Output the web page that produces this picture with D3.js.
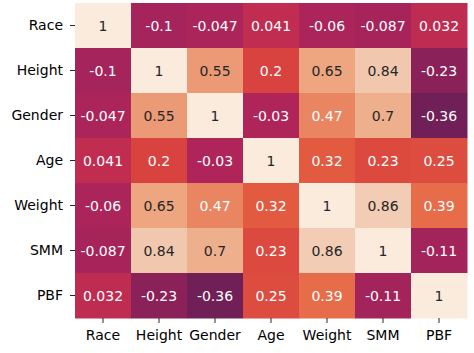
<!DOCTYPE html>
<html>
  <head>
    <meta charset="utf-8">
    <title>Correlation heatmap</title>
    <script src="https://d3js.org/d3.v7.min.js"></script>
    <style>
      body { margin: 0; background: #fff; }
      text { font-family: "DejaVu Sans", sans-serif; }
    </style>
  </head>
  <body>
    <div id="container"></div>
    <script>
      // DATA
      const variables = ["Race", "Height", "Gender", "Age", "Weight", "SMM", "PBF"];
      const raceRow   = [1, -0.1, -0.047, 0.041, -0.06, -0.087, 0.032];
      const heightRow = [-0.1, 1, 0.55, 0.2, 0.65, 0.84, -0.23];
      const genderRow = [-0.047, 0.55, 1, -0.03, 0.47, 0.7, -0.36];
      const ageRow    = [0.041, 0.2, -0.03, 1, 0.32, 0.23, 0.25];
      const weightRow = [-0.06, 0.65, 0.47, 0.32, 1, 0.86, 0.39];
      const smmRow    = [-0.087, 0.84, 0.7, 0.23, 0.86, 1, -0.11];
      const pbfRow    = [0.032, -0.23, -0.36, 0.25, 0.39, -0.11, 1];
      const matrix = [raceRow, heightRow, genderRow, ageRow, weightRow, smmRow, pbfRow];

      // SIZE
      const W = 474, H = 353;
      const margin = { top: 3, right: 7, bottom: 35, left: 75 };

      const svg = d3.select("#container").append("svg")
        .attr("width", W).attr("height", H);

      const x = d3.scaleBand().domain(variables).range([margin.left, W - margin.right]);
      const y = d3.scaleBand().domain(variables).range([margin.top, H - margin.bottom]);

      // rocket-like colormap (as it looks in the picture), mapped over [-1, 1]
      const cmapPos = [0, 0.143, 0.3, 0.32, 0.385, 0.45, 0.49, 0.52, 0.6, 0.66, 0.695, 0.735, 0.775, 0.825, 0.85, 0.92, 1];
      const cmapCol = ["#03051a", "#35193e", "#6b1f56", "#711f57", "#8b2159", "#a5245b", "#b0255a", "#c12d51",
                       "#d8433f", "#e25a40", "#e76c49", "#ea8562", "#ec9a76", "#eda67f", "#eeb08c", "#f1c8ae", "#faebdd"];
      const rocket = d3.scaleLinear().domain(cmapPos).range(cmapCol).interpolate(d3.interpolateRgb);
      const color = v => rocket((v + 1) / 2);

      const cells = [];
      matrix.forEach((row, i) => row.forEach((v, j) => cells.push({ r: variables[i], c: variables[j], v })));

      svg.append("g").selectAll("rect")
        .data(cells).join("rect")
        .attr("x", d => x(d.c))
        .attr("y", d => y(d.r))
        .attr("width", x.bandwidth() + 0.5)
        .attr("height", y.bandwidth() + 0.5)
        .attr("fill", d => color(d.v));

      // annotation text: dark on light cells, white otherwise (seaborn rule)
      function lum(c) {
        const rgb = d3.rgb(c);
        const f = u => { u /= 255; return u <= 0.03928 ? u / 12.92 : Math.pow((u + 0.055) / 1.055, 2.4); };
        return 0.2126 * f(rgb.r) + 0.7152 * f(rgb.g) + 0.0722 * f(rgb.b);
      }

      svg.append("g").selectAll("text")
        .data(cells).join("text")
        .attr("x", d => x(d.c) + x.bandwidth() / 2)
        .attr("y", d => y(d.r) + y.bandwidth() / 2)
        .attr("text-anchor", "middle")
        .attr("dominant-baseline", "central")
        .attr("font-size", 14)
        .attr("fill", d => lum(color(d.v)) > 0.408 ? "#262626" : "#ffffff")
        .text(d => String(d.v));

      // AXES
      const xAxis = svg.append("g")
        .attr("transform", "translate(0," + (H - margin.bottom) + ")")
        .call(d3.axisBottom(x).tickSize(5).tickPadding(7));
      const yAxis = svg.append("g")
        .attr("transform", "translate(" + margin.left + ",0)")
        .call(d3.axisLeft(y).tickSize(5).tickPadding(7));

      [xAxis, yAxis].forEach(a => {
        a.select(".domain").remove();
        a.selectAll("line").attr("stroke", "#262626").attr("stroke-width", 1);
        a.selectAll("text")
          .attr("font-size", 14)
          .attr("font-family", "DejaVu Sans, sans-serif")
          .attr("fill", "#000");
      });
    </script>
  </body>
</html>
